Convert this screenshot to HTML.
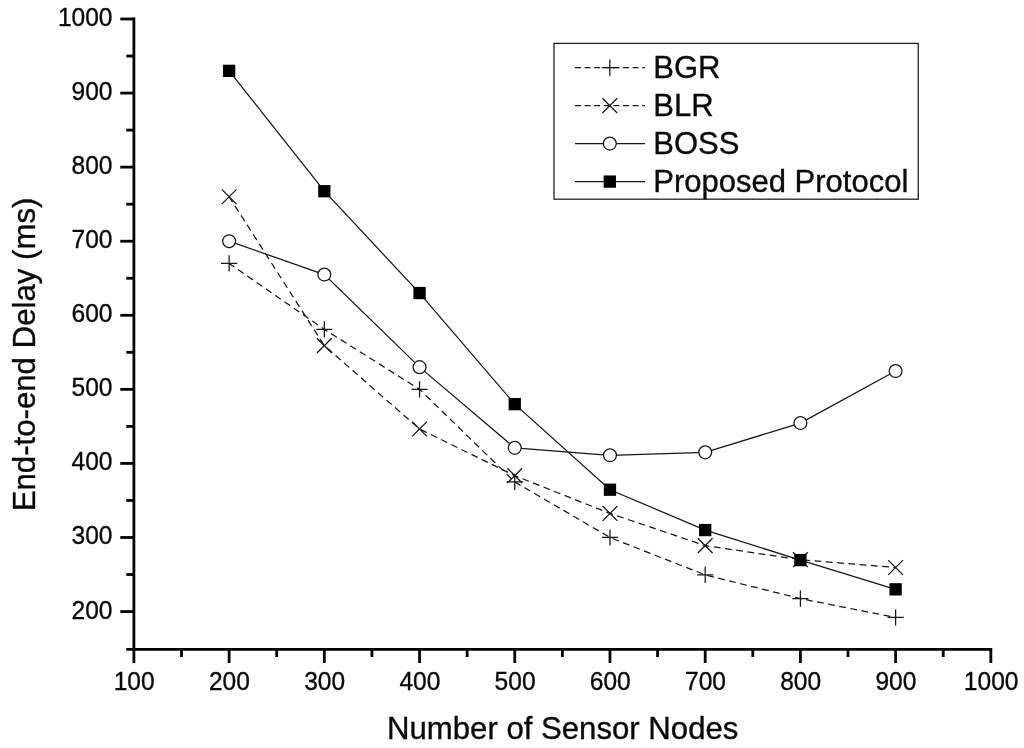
<!DOCTYPE html>
<html><head><meta charset="utf-8"><title>End-to-end Delay vs Number of Sensor Nodes</title>
<style>
html,body{margin:0;padding:0;background:#fff;}
body{width:1024px;height:748px;overflow:hidden;}
svg{display:block;}
text{font-family:"Liberation Sans",Arial,sans-serif;fill:#0a0a0a;stroke:#0a0a0a;stroke-width:0.35px;}
</style></head><body>
<svg width="1024" height="748" viewBox="0 0 1024 748">
<rect width="1024" height="748" fill="#fff"/>

<g stroke="#000" stroke-width="2.8" fill="none" stroke-linecap="butt">
<line x1="133.9" y1="17.6" x2="133.9" y2="650.75"/>
<line x1="132.5" y1="649.35" x2="992.235" y2="649.35"/>
<line x1="120.3" y1="611.56" x2="133.9" y2="611.56"/>
<line x1="120.3" y1="537.49" x2="133.9" y2="537.49"/>
<line x1="120.3" y1="463.42" x2="133.9" y2="463.42"/>
<line x1="120.3" y1="389.35" x2="133.9" y2="389.35"/>
<line x1="120.3" y1="315.28" x2="133.9" y2="315.28"/>
<line x1="120.3" y1="241.21" x2="133.9" y2="241.21"/>
<line x1="120.3" y1="167.14" x2="133.9" y2="167.14"/>
<line x1="120.3" y1="93.07" x2="133.9" y2="93.07"/>
<line x1="120.3" y1="19.00" x2="133.9" y2="19.00"/>
<line x1="126.3" y1="649.35" x2="133.9" y2="649.35"/>
<line x1="126.3" y1="574.52" x2="133.9" y2="574.52"/>
<line x1="126.3" y1="500.46" x2="133.9" y2="500.46"/>
<line x1="126.3" y1="426.38" x2="133.9" y2="426.38"/>
<line x1="126.3" y1="352.31" x2="133.9" y2="352.31"/>
<line x1="126.3" y1="278.25" x2="133.9" y2="278.25"/>
<line x1="126.3" y1="204.18" x2="133.9" y2="204.18"/>
<line x1="126.3" y1="130.11" x2="133.9" y2="130.11"/>
<line x1="126.3" y1="56.04" x2="133.9" y2="56.04"/>
<line x1="133.90" y1="649.35" x2="133.90" y2="663"/>
<line x1="229.12" y1="649.35" x2="229.12" y2="663"/>
<line x1="324.33" y1="649.35" x2="324.33" y2="663"/>
<line x1="419.55" y1="649.35" x2="419.55" y2="663"/>
<line x1="514.76" y1="649.35" x2="514.76" y2="663"/>
<line x1="609.98" y1="649.35" x2="609.98" y2="663"/>
<line x1="705.19" y1="649.35" x2="705.19" y2="663"/>
<line x1="800.40" y1="649.35" x2="800.40" y2="663"/>
<line x1="895.62" y1="649.35" x2="895.62" y2="663"/>
<line x1="990.84" y1="649.35" x2="990.84" y2="663"/>
<line x1="181.51" y1="649.35" x2="181.51" y2="657"/>
<line x1="276.72" y1="649.35" x2="276.72" y2="657"/>
<line x1="371.94" y1="649.35" x2="371.94" y2="657"/>
<line x1="467.15" y1="649.35" x2="467.15" y2="657"/>
<line x1="562.37" y1="649.35" x2="562.37" y2="657"/>
<line x1="657.58" y1="649.35" x2="657.58" y2="657"/>
<line x1="752.80" y1="649.35" x2="752.80" y2="657"/>
<line x1="848.01" y1="649.35" x2="848.01" y2="657"/>
<line x1="943.23" y1="649.35" x2="943.23" y2="657"/>
</g>
<g font-size="25.7">
<text transform="translate(112.5,618.56) scale(0.955,1.035)" text-anchor="end">200</text>
<text transform="translate(112.5,544.49) scale(0.955,1.035)" text-anchor="end">300</text>
<text transform="translate(112.5,470.42) scale(0.955,1.035)" text-anchor="end">400</text>
<text transform="translate(112.5,396.35) scale(0.955,1.035)" text-anchor="end">500</text>
<text transform="translate(112.5,322.28) scale(0.955,1.035)" text-anchor="end">600</text>
<text transform="translate(112.5,248.21) scale(0.955,1.035)" text-anchor="end">700</text>
<text transform="translate(112.5,174.14) scale(0.955,1.035)" text-anchor="end">800</text>
<text transform="translate(112.5,100.07) scale(0.955,1.035)" text-anchor="end">900</text>
<text transform="translate(112.5,26.00) scale(0.955,1.035)" text-anchor="end">1000</text>
<text transform="translate(134.20,690.35) scale(0.955,1.035)" text-anchor="middle">100</text>
<text transform="translate(229.42,690.35) scale(0.955,1.035)" text-anchor="middle">200</text>
<text transform="translate(324.63,690.35) scale(0.955,1.035)" text-anchor="middle">300</text>
<text transform="translate(419.85,690.35) scale(0.955,1.035)" text-anchor="middle">400</text>
<text transform="translate(515.06,690.35) scale(0.955,1.035)" text-anchor="middle">500</text>
<text transform="translate(610.27,690.35) scale(0.955,1.035)" text-anchor="middle">600</text>
<text transform="translate(705.49,690.35) scale(0.955,1.035)" text-anchor="middle">700</text>
<text transform="translate(800.70,690.35) scale(0.955,1.035)" text-anchor="middle">800</text>
<text transform="translate(895.92,690.35) scale(0.955,1.035)" text-anchor="middle">900</text>
<text transform="translate(991.13,690.35) scale(0.955,1.035)" text-anchor="middle">1000</text>
</g>
<text x="562.7" y="739.2" font-size="31.15" text-anchor="middle">Number of Sensor Nodes</text>
<text transform="translate(35.4,354.5) rotate(-90)" font-size="31.2" text-anchor="middle">End-to-end Delay (ms)</text>
<g fill="none" stroke="#161616" stroke-width="1.25">
<polyline points="229.12,263.43 324.33,329.35 419.55,389.35 514.76,481.94 609.98,537.49 705.19,574.90 800.40,598.60 895.62,617.49" stroke-dasharray="6.8 4.5" stroke-dashoffset="0.5"/>
<polyline points="229.12,196.77 324.33,345.65 419.55,428.98 514.76,475.64 609.98,513.42 705.19,545.64 800.40,559.71 895.62,567.49" stroke-dasharray="6.8 4.5" stroke-dashoffset="0.5"/>
<polyline points="229.12,241.21 324.33,274.54 419.55,367.13 514.76,447.87 609.98,455.27 705.19,452.31 800.40,423.05 895.62,371.05"/>
<polyline points="229.12,70.85 324.33,191.21 419.55,293.06 514.76,404.16 609.98,489.71 705.19,530.08 800.40,560.08 895.62,589.34"/>
</g>
<g fill="none" stroke="#161616" stroke-width="1.25">
<path d="M221.02 263.43H237.22M229.12 255.33V271.53"/>
<path d="M316.23 329.35H332.43M324.33 321.25V337.45"/>
<path d="M411.45 389.35H427.65M419.55 381.25V397.45"/>
<path d="M506.66 481.94H522.86M514.76 473.84V490.04"/>
<path d="M601.88 537.49H618.08M609.98 529.39V545.59"/>
<path d="M697.09 574.90H713.29M705.19 566.80V583.00"/>
<path d="M792.30 598.60H808.50M800.40 590.50V606.70"/>
<path d="M887.52 617.49H903.72M895.62 609.39V625.59"/>
<path d="M221.72 189.37L236.52 204.17M221.72 204.17L236.52 189.37"/>
<path d="M316.93 338.25L331.73 353.05M316.93 353.05L331.73 338.25"/>
<path d="M412.15 421.58L426.95 436.38M412.15 436.38L426.95 421.58"/>
<path d="M507.36 468.24L522.16 483.04M507.36 483.04L522.16 468.24"/>
<path d="M602.58 506.02L617.38 520.82M602.58 520.82L617.38 506.02"/>
<path d="M697.79 538.24L712.59 553.04M697.79 553.04L712.59 538.24"/>
<path d="M793.00 552.31L807.80 567.11M793.00 567.11L807.80 552.31"/>
<path d="M888.22 560.09L903.02 574.89M888.22 574.89L903.02 560.09"/>
<circle cx="229.12" cy="241.21" r="6.45" fill="#fff"/>
<circle cx="324.33" cy="274.54" r="6.45" fill="#fff"/>
<circle cx="419.55" cy="367.13" r="6.45" fill="#fff"/>
<circle cx="514.76" cy="447.87" r="6.45" fill="#fff"/>
<circle cx="609.98" cy="455.27" r="6.45" fill="#fff"/>
<circle cx="705.19" cy="452.31" r="6.45" fill="#fff"/>
<circle cx="800.40" cy="423.05" r="6.45" fill="#fff"/>
<circle cx="895.62" cy="371.05" r="6.45" fill="#fff"/>
<rect x="222.97" y="64.70" width="12.3" height="12.3" fill="#000" stroke="none"/>
<rect x="318.18" y="185.06" width="12.3" height="12.3" fill="#000" stroke="none"/>
<rect x="413.40" y="286.91" width="12.3" height="12.3" fill="#000" stroke="none"/>
<rect x="508.61" y="398.01" width="12.3" height="12.3" fill="#000" stroke="none"/>
<rect x="603.83" y="483.56" width="12.3" height="12.3" fill="#000" stroke="none"/>
<rect x="699.04" y="523.93" width="12.3" height="12.3" fill="#000" stroke="none"/>
<rect x="794.25" y="553.93" width="12.3" height="12.3" fill="#000" stroke="none"/>
<rect x="889.47" y="583.19" width="12.3" height="12.3" fill="#000" stroke="none"/>
</g>
<rect x="554" y="43.4" width="364.25" height="155.8" fill="#fff" stroke="#222" stroke-width="1.3"/>
<g fill="none" stroke="#161616" stroke-width="1.25">
<line x1="575" y1="67.7" x2="645" y2="67.7" stroke-dasharray="5.9 3.7"/>
<line x1="575" y1="105.6" x2="645" y2="105.6" stroke-dasharray="5.9 3.7"/>
<line x1="575" y1="143.6" x2="645" y2="143.6"/>
<line x1="575" y1="181.6" x2="645" y2="181.6"/>
<path d="M601.70 67.70H617.90M609.80 59.60V75.80"/>
<path d="M602.40 98.20L617.20 113.00M602.40 113.00L617.20 98.20"/>
<circle cx="609.80" cy="143.60" r="6.45" fill="#fff"/>
<rect x="603.65" y="175.45" width="12.3" height="12.3" fill="#000" stroke="none"/>
</g>
<g font-size="31">
<text x="653.3" y="77.80">BGR</text>
<text x="653.3" y="115.70">BLR</text>
<text x="653.3" y="153.70">BOSS</text>
<text x="653.3" y="191.70">Proposed Protocol</text>
</g>
</svg></body></html>
